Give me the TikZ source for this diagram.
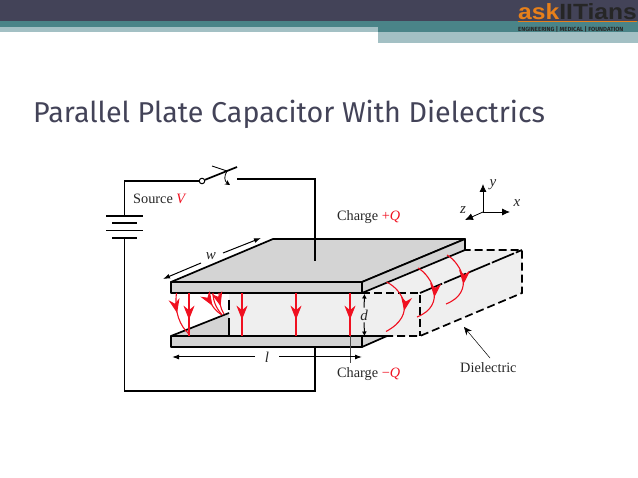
\documentclass[tikz,border=0pt]{standalone}
\usepackage{fontspec}
\setsansfont{Fira Sans}
\setmainfont{Liberation Serif}
\newfontfamily\logofont[FakeStretch=1.12]{Liberation Sans}
\usepackage{tikz}
\usetikzlibrary{arrows.meta,positioning,decorations.markings}
\definecolor{barDark}{HTML}{434358}
\definecolor{barTeal}{HTML}{4A8488}
\definecolor{barLight}{HTML}{A3C0C4}
\definecolor{plateGray}{HTML}{D4D4D4}
\definecolor{dielGray}{HTML}{EFEFEF}
\definecolor{fieldRed}{HTML}{F01020}
\definecolor{logoOrange}{HTML}{E8801A}
\tikzset{
  wire/.style={line width=1.7pt},
  plate/.style={fill=plateGray,draw=black,line width=1.7pt,line join=round},
  diel/.style={line width=1.7pt,dash pattern=on 8pt off 4pt},
  field/.style={fieldRed,line width=1.1pt,postaction={decorate}},
  dim/.style={-{Latex[length=7pt,width=5pt]},line width=1pt},
  lab/.style={inner sep=0pt,text=black!85,font=\fontsize{14.3}{16}\selectfont},
  sym/.style={inner sep=0pt,text=black!85,font=\itshape\fontsize{15}{17}\selectfont},
  headat/.style={decoration={markings,mark=at position #1 with {\arrow{Stealth[length=14pt,width=11pt,inset=4.5pt]}}}},
}
\begin{document}
\begin{tikzpicture}[x=1pt,y=-1pt]
  \useasboundingbox (0,0) rectangle (638,478);
  % header
  \fill[barLight] (0,27) rectangle (378,32);
  \fill[barLight] (378,32) rectangle (638,43);
  \fill[barTeal] (0,21) rectangle (378,27);
  \fill[barTeal] (378,21) rectangle (638,32);
  \fill[barDark] (0,0) rectangle (638,21);
  \fill[logoOrange] (518,21) rectangle (637,22.5);
  \node[anchor=base west,inner sep=0pt,font=\logofont\bfseries\fontsize{22}{23}\selectfont] (logo) at (518,19.5)
    {\textcolor{logoOrange}{ask}\textcolor{black!85}{IITians}};
  \node[anchor=base west,inner sep=0pt,font=\sffamily\bfseries\fontsize{6}{7}\selectfont,text=black!85] (tag) at (518,31.5)
    {ENGINEERING | MEDICAL | FOUNDATION};
  % title
  \node[anchor=base west,inner sep=0pt,font=\sffamily\fontsize{28.7}{32}\selectfont,text=barDark] (title) at (33,123)
    {Parallel Plate Capacitor With Dielectrics};

  % dielectric
  \fill[dielGray] (229,293) -- (362,293) -- (465,250) -- (522,250) -- (522,293) -- (420,336) -- (229,336) -- cycle;
  % lower plate
  \fill[plateGray] (172,336) -- (229,313) -- (229,336) -- cycle;
  \draw[plate] (362,347) -- (387,336) -- (362,336) -- cycle;
  \draw[plate] (171,336) rectangle (362,347);
  \draw[wire] (171,336) -- (229,313);
  \draw[wire] (229,300) -- (229,310) (229,318) -- (229,336);
  \draw[diel] (229,336) -- (420,336) -- (522,293) -- (522,250) -- (465,250);
  \draw[diel] (362,293) -- (420,293) -- (420,336);
  \draw[wire,dash pattern=on 24pt off 2pt] (420,293) -- (522,250);
  % upper plate
  \draw[plate] (171,282) -- (273,239) -- (465,239) -- (362,282) -- cycle;
  \draw[plate] (362,282) -- (465,239) -- (465,250) -- (362,293) -- cycle;
  \draw[plate] (171,282) rectangle (362,293);

  % circuit
  \coordinate (batTop) at (124.5,216);
  \coordinate (batBot) at (124.5,238);
  \node[circle,draw,line width=1pt,fill=white,inner sep=0pt,minimum size=5.5pt] (pivot) at (202,181) {};
  \coordinate (swEnd) at (237,167);
  \coordinate (swRight) at (237,179);
  \coordinate (topLead) at (315,261);
  \coordinate (botLead) at (315,347);
  \draw[wire] (batTop) |- (pivot);
  \draw[wire] (pivot) -- (swEnd);
  \draw[wire] (swRight) -| (topLead);
  \draw[wire] (batBot) |- (315,391) -- (botLead);
  \draw[wire] (106,216) -- (143,216) (112,223) -- (137,223) (106,230.5) -- (143,230.5) (112,238) -- (137,238);
  \draw[line width=0.8pt] (212,166) -- (227,171);
  \draw[line width=0.8pt,-{Stealth[length=5pt,width=5pt]}] (227,171) .. controls (224,176) and (224,181) .. (230,185);

  % field lines
  \foreach \fx in {189,242,296,350}
    \draw[field,headat=0.62] (\fx,293) -- (\fx,336);
  \draw[field,headat=0.45] (176.5,293) .. controls (174,312) and (180,326) .. (189,334);
  \draw[field,headat=0.5] (209,293) .. controls (209,303) and (214,310) .. (222,315);
  \draw[field] (213,293) .. controls (213,303) and (218,310) .. (222,315);
  \draw[field,headat=0.6] (219,293) .. controls (219,300) and (220,308) .. (224,314);
  \draw[field,headat=0.56] (386.5,282) .. controls (403,290) and (417,315) .. (386,331.5);
  \draw[field,headat=0.56] (418,268) .. controls (432,276) and (447,305) .. (417,317);
  \draw[field,headat=0.56] (447,255) .. controls (461,263) and (476,292) .. (446,304);
  \draw[line width=0.4pt,black!70] (350,336) -- (350,363);

  % dimensions
  \node[sym] (wlab) at (211,256) {w};
  \node[sym] (llab) at (267,357) {l};
  \node[sym] (dlab) at (364,315) {d};
  \coordinate (wA) at (163,279);
  \coordinate (wB) at (261,238);
  \coordinate (lA) at (172,357);
  \coordinate (lB) at (362,357);
  \coordinate (dA) at (364.5,294);
  \coordinate (dB) at (364.5,336);
  \draw[dim] (201,263) -- (wA);
  \draw[dim] (223,253) -- (wB);
  \draw[dim] (255,357) -- (lA);
  \draw[dim] (279,357) -- (lB);
  \draw[dim,-{Latex[length=4.5pt,width=5pt]},shorten <=2pt] (dlab.north) -- (dA);
  \draw[dim,-{Latex[length=4.5pt,width=5pt]},shorten <=2pt] (dlab.south) -- (dB);

  % labels
  \node[lab,anchor=west] (source) at (133,199) {Source \textcolor{fieldRed}{\textit{V}}};
  \node[lab,anchor=west] (chargeP) at (337,217) {Charge \textcolor{fieldRed}{+\textit{Q}}};
  \node[lab,anchor=west] (chargeM) at (337,374) {Charge \textcolor{fieldRed}{\textminus\textit{Q}}};
  \node[lab,anchor=west] (dielec) at (460,368) {Dielectric};
  \coordinate (dielTip) at (464,327);
  \draw[line width=0.5pt,-{Stealth[length=8pt,width=7pt]}] (490,358) -- (dielTip);

  % axes
  \coordinate (orig) at (483,212);
  \node[sym] (ylab) at (493,185) {y};
  \node[sym] (xlab) at (517,203) {x};
  \node[sym] (zlab) at (463,210) {z};
  \draw[line width=0.8pt,-{Latex[length=8pt,width=7pt]}] (orig) -- (483,184);
  \draw[line width=0.8pt,-{Latex[length=8pt,width=7pt]}] (orig) -- (510,212);
  \draw[line width=0.8pt,-{Latex[length=8pt,width=7pt]}] (orig) -- (465,220);
\end{tikzpicture}
\end{document}
